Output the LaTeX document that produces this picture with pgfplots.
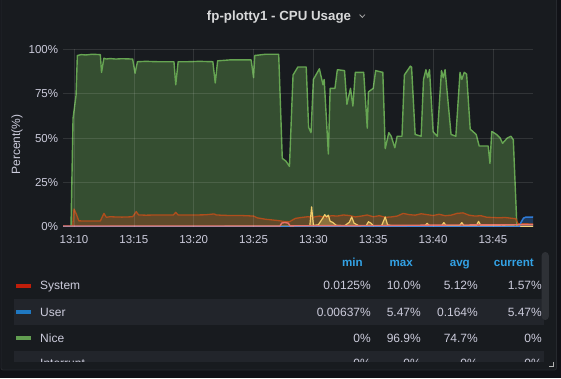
\documentclass[border=0pt]{standalone}
\usepackage{pgfplots}
\pgfplotsset{compat=1.18}
\usepackage{pgfplotstable}
\usepackage{fontspec}
\setmainfont{Liberation Sans}

\definecolor{outerbg}{HTML}{111217}
\definecolor{panelbg}{HTML}{181B1F}
\definecolor{panelborder}{HTML}{26292E}
\definecolor{titlecol}{HTML}{D8D9DA}
\definecolor{tickcol}{HTML}{CCCCDC}
\definecolor{rowbg}{HTML}{22252B}
\definecolor{hdrblue}{HTML}{33A2E5}
\definecolor{scrollcol}{HTML}{2E3136}
\definecolor{niceline}{HTML}{66A552}
\definecolor{nicefill}{HTML}{354E31}
\definecolor{sysline}{HTML}{B04E1C}
\definecolor{sysfill}{HTML}{604A2A}
\definecolor{yelline}{HTML}{F2CC6B}
\definecolor{salmon}{HTML}{E8726A}
\definecolor{userblue}{HTML}{2F7BD6}
\definecolor{userfill}{HTML}{1F3A5C}
\definecolor{swred}{HTML}{C01E0A}
\definecolor{swblue}{HTML}{1F78C1}
\definecolor{swgreen}{HTML}{629E51}

\pgfplotstableread{
x y
9.10 0
9.75 0
9.92 61
10.17 74
10.28 96.5
10.6 97
11 96.8
11.5 97.2
12.2 97
12.3 87
12.5 95
12.7 94.5
13 94.8
13.5 94.5
14 94.7
14.9 94.5
15.1 86.5
15.3 93
16 93.2
17 93
18.35 93
18.5 80
18.7 93
19.5 93
20.5 93.2
21.6 93
21.8 81
22 93.5
23 94
24 94
24.8 94
25 84
25.1 96.5
26 97.2
27.1 97.2
27.4 38.5
27.7 37
28 34
28.3 85.5
28.7 90
29.4 90
29.6 56
29.8 53
30 83
30.5 89
30.8 80
30.9 83
31.25 41
31.4 78
31.8 78
32 88.5
32.6 88
32.8 69
33.1 78
33.3 68
33.5 87
34.2 87
34.5 55.5
34.6 76
35 78
35.2 88
35.8 87
36 44
36.3 53
36.5 51
36.8 44.5
37 51
37.4 51
37.6 85.5
38.1 90.5
38.2 90
38.5 52
39 51
39.2 83
39.4 88.5
39.55 84
39.7 88.5
40 53.5
40.35 51
40.7 88
40.85 84
41 88.5
41.5 52
41.9 51
42.25 87
42.4 83
42.6 87
42.8 86
43.1 55
43.6 52
43.85 45.5
44.6 45.5
44.75 35.7
44.9 53.7
45.3 52
45.6 50
45.8 47
46.2 50
46.5 51
46.7 49
47.0 0
}\nicedata

\pgfplotstableread{
x y
9.10 0.3
9.90 0.3
10.0 10
10.2 7
10.4 3.3
11 3.2
12.2 3.2
12.5 7.5
12.7 5.3
13 5.6
14 5.4
14.9 5.6
15.2 8.5
15.4 6.6
16 6.5
17 6.6
18.3 6.6
18.5 8.1
18.7 6.6
20 6.6
21 6.7
21.7 7.2
21.9 6.6
23 6.3
24 6.3
25 6.0
25.3 5
26 4.2
27 3.5
27.5 3.0
28 2.8
28.5 4.7
29 5.2
29.5 5.6
30 5.4
30.5 6.0
31 5.2
31.5 6.2
32 6.0
32.5 6.6
33 6.3
33.5 5.5
34 6.0
34.5 6.6
35 5.6
35.5 6.2
36 5.3
36.5 5.5
37 6
37.5 7.5
38 6.8
38.5 6.5
39 7.3
39.5 6.8
40 6.3
40.5 7
41 6.2
41.5 6.5
42 7.5
42.5 7.8
43 6.5
43.5 6
44 6.2
44.5 5.3
45 5.2
45.5 5
46 5.2
46.5 4.8
46.9 4.5
47.1 1.6
48.35 1.57
}\sysdata

\pgfplotstableread{
x y
9.10 0
29.5 0.3
29.7 0.5
29.85 11.2
30.0 0.8
30.4 1.0
30.8 5.0
30.95 6.8
31.1 5.5
31.25 6.5
31.4 3.0
31.6 2.5
31.9 0.8
32.6 0.5
33.0 2.5
33.2 5.5
33.4 2.0
33.8 0.5
34.4 0.5
34.6 2.8
34.8 2.0
35.0 0.6
35.7 0.6
36.0 5.5
36.2 1.0
36.6 0.5
39.3 0.5
39.5 1.9
39.7 0.5
40.7 0.5
40.9 2.3
41.1 0.5
42.2 0.5
42.4 2.3
42.6 0.5
43.6 0.5
43.8 3.0
44.0 0.5
45.5 0.5
45.7 1.2
45.9 0.5
47.0 0.3
48.35 0.3
}\yeldata

\pgfplotstableread{
x y
9.10 0.4
27.2 0.4
27.35 2.0
27.6 2.4
27.9 2.0
28.05 0.5
36 0.7
40 0.9
47 1.1
48.35 1.2
}\saldata

\pgfplotstableread{
x y
9.10 0.1
47.2 0.1
47.35 2.5
47.55 4.8
47.75 5.4
48.35 5.47
}\userdata

\begin{document}
\begin{tikzpicture}[x=1pt,y=1pt]
\path[use as bounding box] (0,0) rectangle (561,378);
\fill[outerbg] (0,0) rectangle (561,378);
\filldraw[fill=panelbg, draw=panelborder, line width=0.8pt, rounded corners=2pt] (1,8) rectangle (556.5,390);

% title
\node[anchor=base, inner sep=0, text=titlecol, font=\fontsize{13.3}{15}\selectfont\bfseries] at (279,357.2) {fp-plotty1 - CPU Usage};
\draw[gray!70, line width=0.8pt] (359.6,363.4) -- (362.3,360.6) -- (365,363.4);

% y label
\node[rotate=90, inner sep=0, text=tickcol, font=\fontsize{12}{14}\selectfont] at (17,233.5) {Percent(\%)};

\begin{axis}[
  at={(63pt,151.3pt)}, anchor=south west,
  scale only axis, width=470pt, height=177.4pt,
  xmin=9.081, xmax=48.346, ymin=0, ymax=100,
  axis on top,
  axis line style={draw=none},
  tick style={draw=none},
  xtick={10,15,20,25,30,35,40,45},
  xticklabels={13:10,13:15,13:20,13:25,13:30,13:35,13:40,13:45},
  ytick={0,25,50,75,100},
  yticklabels={0\%,25\%,50\%,75\%,100\%},
  xticklabel style={anchor=base, inner sep=0, yshift=-16.7pt, text=tickcol, font=\fontsize{11.5}{13}\selectfont},
  yticklabel style={anchor=base east, inner sep=0, xshift=-4.7pt, yshift=-4.1pt, text=tickcol, font=\fontsize{11.5}{13}\selectfont},
  /pgf/number format/assume math mode=true,
  grid=major,
  major grid style={draw=white, opacity=0.11, line width=0.7pt},
]
\addplot[fill=nicefill, draw=none] table[x=x,y=y] {\nicedata} \closedcycle;
\addplot[fill=sysfill, draw=none] table[x=x,y=y] {\sysdata} \closedcycle;
\addplot[fill=yelline, fill opacity=0.3, draw=none] table[x=x,y=y] {\yeldata} \closedcycle;
\addplot[fill=userfill, draw=none] table[x=x,y=y] {\userdata} \closedcycle;
\addplot[niceline, line width=1.4pt, line join=round] table[x=x,y=y] {\nicedata};
\addplot[sysline, line width=1.3pt, line join=round] table[x=x,y=y] {\sysdata};
\addplot[yelline, line width=1.2pt, line join=round] table[x=x,y=y] {\yeldata};
\addplot[userblue, line width=1.5pt, line join=round] table[x=x,y=y] {\userdata};
\addplot[salmon, line width=1.4pt, line join=round] table[x=x,y=y] {\saldata};
\end{axis}

% legend table
\begin{scope}
\clip (0,17) rectangle (561,128);
\fill[rowbg] (14.3,53.5) rectangle (543.8,79);
\fill[rowbg] (14.3,10) rectangle (543.8,27);
\begin{scope}[every node/.style={inner sep=0, anchor=base east, text=hdrblue, font=\fontsize{11.6}{13}\selectfont\bfseries}]
\node at (363,111.5) {min};
\node at (413,111.5) {max};
\node at (470,111.5) {avg};
\node at (534,111.5) {current};
\end{scope}
\fill[swred] (16,90.5) rectangle (31,94.5);
\fill[swblue] (16,64.3) rectangle (31,68.3);
\fill[swgreen] (16,38.3) rectangle (31,42.3);
\begin{scope}[every node/.style={inner sep=0, text=tickcol, font=\fontsize{12}{14}\selectfont}]
\node[anchor=base west] at (40,88.2) {System};
\node[anchor=base west] at (40,62) {User};
\node[anchor=base west] at (40,36) {Nice};
\node[anchor=base west] at (40,10.2) {Interrupt};
\node[anchor=base east] at (371,88.2) {0.0125\%};
\node[anchor=base east] at (421,88.2) {10.0\%};
\node[anchor=base east] at (478,88.2) {5.12\%};
\node[anchor=base east] at (542,88.2) {1.57\%};
\node[anchor=base east] at (371,62) {0.00637\%};
\node[anchor=base east] at (421,62) {5.47\%};
\node[anchor=base east] at (478,62) {0.164\%};
\node[anchor=base east] at (542,62) {5.47\%};
\node[anchor=base east] at (371,36) {0\%};
\node[anchor=base east] at (421,36) {96.9\%};
\node[anchor=base east] at (478,36) {74.7\%};
\node[anchor=base east] at (542,36) {0\%};
\node[anchor=base east] at (371,10.2) {0\%};
\node[anchor=base east] at (421,10.2) {0\%};
\node[anchor=base east] at (478,10.2) {0\%};
\node[anchor=base east] at (542,10.2) {0\%};
\end{scope}
\end{scope}
% scrollbar
\fill[scrollcol, rounded corners=3.5pt] (541.7,58) rectangle (548.8,126);
% resize handle
\draw[gray!60, line width=0.8pt] (549,12) -- (553,12) -- (553,16);
\end{tikzpicture}
\end{document}
